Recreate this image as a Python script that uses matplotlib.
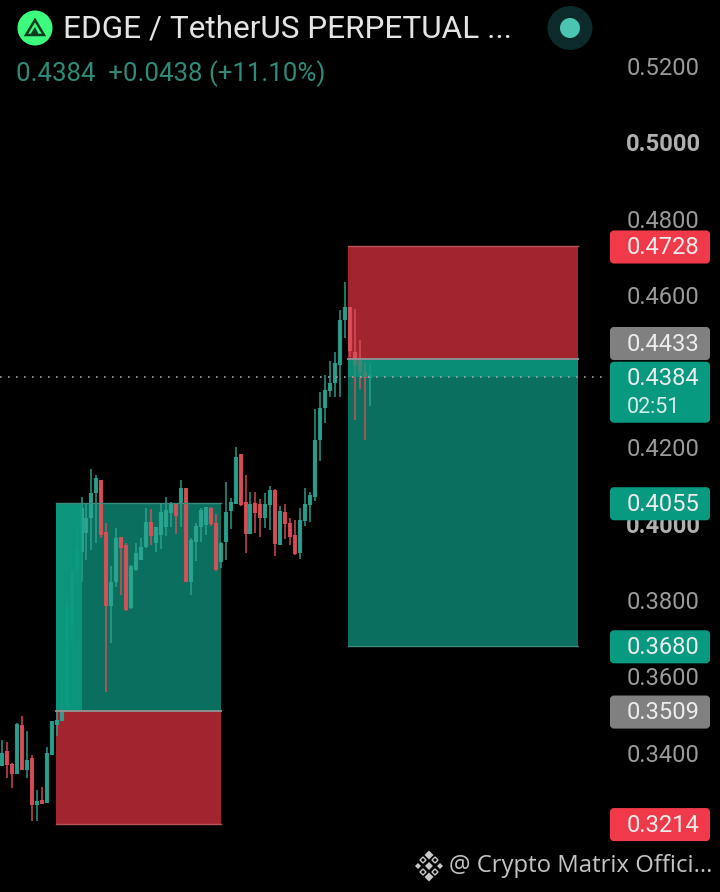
import matplotlib
matplotlib.use("Agg")
import matplotlib.pyplot as plt
import numpy as np
from matplotlib.patches import FancyBboxPatch, Circle, Ellipse, Polygon, Rectangle
from matplotlib.transforms import Affine2D

W, H = 720, 892
GREEN = "#2ba692"; RED = "#de4f59"

opens = [.3364,.3403,.3370,.3344,.3473,.3355,.3386,.3264,.3277,.3268,.3395,.3473,.3482,.3525,.3735,.3875,.3927,.3975,.4014,.4080,
         .4114,.3979,.3785,.3848,.3964,.3944,.3779,.3879,.3905,.3940,.4005,.3949,.3970,.3992,.4027,.4052,.4053,.4093,.3848,.3953,
         .3992,.3997,.4042,.4001,.3901,.3951,.4033,.4053,.4182,.4058,.3974,.4054,.4051,.4014,.4049,.4088,.3944,.4032,.4001,.3970,
         .3923,.4007,.4049,.4071,.4219,.4304,.4347,.4370,.4417,.4533,.4568,.4450,.4429,.4398,.4381]
highs = [.3434,.3428,.3373,.3478,.3495,.3457,.3395,.3303,.3309,.3414,.3484,.3512,.3595,.3822,.3883,.3997,.4071,.4053,.4143,.4128,
         .4114,.4001,.3888,.3988,.3966,.3949,.3892,.3949,.3962,.4040,.4039,.3992,.4053,.4071,.4058,.4053,.4114,.4094,.3962,.4001,
         .4040,.4045,.4045,.4025,.3953,.4110,.4067,.4202,.4184,.4129,.4084,.4082,.4064,.4080,.4100,.4090,.4047,.4051,.4014,.4010,
         .4040,.4093,.4082,.4302,.4346,.4389,.4427,.4449,.4560,.4634,.4568,.4564,.4481,.4424,.4420]
lows = [.3364,.3334,.3307,.3344,.3355,.3334,.3220,.3220,.3265,.3268,.3395,.3443,.3482,.3517,.3683,.3857,.3848,.3905,.3931,.3949,
        .3962,.3559,.3687,.3835,.3813,.3772,.3777,.3875,.3905,.3936,.3943,.3927,.3934,.3969,.3992,.3972,.3992,.3847,.3812,.3902,
        .3953,.3970,.3995,.3876,.3883,.3905,.3986,.4053,.4047,.3923,.3972,.3975,.3965,.3988,.3984,.3916,.3943,.3960,.3944,.3918,
        .3908,.3995,.4004,.4060,.4164,.4263,.4333,.4333,.4333,.4487,.4437,.4272,.4354,.4219,.4309]
closes = [.3399,.3368,.3344,.3475,.3355,.3382,.3264,.3272,.3265,.3399,.3482,.3486,.3512,.3787,.3875,.3936,.4040,.4014,.4080,.4119,
          .3970,.3785,.3848,.3962,.3936,.3774,.3888,.3923,.3940,.4005,.3969,.3992,.4032,.4036,.4053,.4021,.4093,.3847,.3958,.3995,
          .4036,.4045,.3998,.3879,.3949,.4032,.4058,.4174,.4049,.3972,.4052,.4027,.4016,.4051,.4088,.3946,.4033,.3998,.3966,.3920,
          .4010,.4051,.4075,.4219,.4304,.4350,.4370,.4420,.4533,.4568,.4452,.4416,.4398,.4381,.4389]

# long position: entry, target, stop, and first/last bar of the box
long_entry, long_target, long_stop = 0.3509, 0.4055, 0.3214
long_span = (10.9, 44.0)
long_progress_end = 16.1
# short position
short_entry, short_target, short_stop = 0.4433, 0.3680, 0.4728
short_span = (69.6, 115.8)
last_price = 0.4384

y_ticks = [0.52, 0.50, 0.48, 0.46, 0.42, 0.40, 0.38, 0.36, 0.34]
y_tick_labels = ["0.5200", "0.5000", "0.4800", "0.4600", "0.4200", "0.4000", "0.3800", "0.3600", "0.3400"]
bold_ticks = ["0.5000", "0.4000"]

# (price, label, colour, second line, pixel offset of the tag)
price_tags = [(0.4728, "0.4728", "#f03a4a", None, 1),
              (0.4433, "0.4433", "#808080", None, -15),
              (0.4384, "0.4384", "#089981", "02:51", 1),
              (0.4055, "0.4055", "#089981", None, 1),
              (0.3680, "0.3680", "#089981", None, 1),
              (0.3509, "0.3509", "#808080", None, 1),
              (0.3214, "0.3214", "#f03a4a", None, 1)]

title = "EDGE / TetherUS PERPETUAL ..."
quote = "0.4384  +0.0438 (+11.10%)"
watermark = "@ Crypto Matrix Offici..."

fig = plt.figure(figsize=(W / 100, H / 100), dpi=100, facecolor="black")
ax = fig.add_axes([0, 0, 1, 1], facecolor="black")
ax.set_xlim(-0.40, 144.47)
ax.set_ylim(0.30347, 0.53728)
for s in ax.spines.values():
    s.set_visible(False)
ax.xaxis.set_visible(False)

px = Affine2D().scale(1 / W, -1 / H).translate(0, 1) + fig.transFigure

# Position boxes
BRIGHT = "#0a9a80"; DARK = "#0a6f5e"; BOXRED = "#a1242f"; EDGE_C = "#8f8f8f"
ax.add_patch(Rectangle((long_span[0], long_entry), long_span[1] - long_span[0], long_target - long_entry, fc=DARK, ec="none", zorder=1))
ax.add_patch(Rectangle((long_span[0], long_stop), long_span[1] - long_span[0], long_entry - long_stop, fc=BOXRED, ec="none", zorder=1))
ax.add_patch(Rectangle((short_span[0], short_target), short_span[1] - short_span[0], short_entry - short_target, fc=DARK, ec="none", zorder=1))
ax.add_patch(Rectangle((short_span[0], short_entry), short_span[1] - short_span[0], short_stop - short_entry, fc=BOXRED, ec="none", zorder=1))

# Candles
for i, (o, h, l, c) in enumerate(zip(opens, highs, lows, closes)):
    col = GREEN if c >= o else RED
    ax.plot([i, i], [l, h], color=col, lw=1.4, alpha=0.72, solid_capstyle="butt", zorder=2)
    ax.plot([i, i], [min(o, c), max(o, c)], color=col, lw=3.0, alpha=0.9, solid_capstyle="butt", zorder=2.1)

# Brighter "progress" strips over the candles
ax.add_patch(Rectangle((long_span[0], long_entry), long_progress_end - long_span[0], long_target - long_entry, fc=BRIGHT, ec="none", alpha=0.9, zorder=2.2))
ax.add_patch(Rectangle((short_span[0], last_price), short_span[1] - short_span[0], short_entry - last_price, fc=BRIGHT, ec="none", alpha=0.72, zorder=2.2))

# Box borders and entry lines
for span, top, bot in [(long_span, long_target, long_stop), (short_span, short_stop, short_target)]:
    ax.plot([span[0], span[1]], [top, top], color="#3f8a7c" if top == long_target else "#b9545c", lw=1, zorder=2.3)
    ax.plot([span[0], span[1]], [bot, bot], color="#b9545c" if bot == long_stop else "#3f8a7c", lw=1, zorder=2.3)
ax.plot(long_span, [long_entry, long_entry], color=EDGE_C, lw=1.4, zorder=2.3)
ax.plot(short_span, [short_entry, short_entry], color=EDGE_C, lw=1.4, zorder=2.3)

# Last price line
ax.plot([-0.4, 121.5], [last_price, last_price], color="#9aa8a4", lw=1.2, ls=(0, (1, 3.8)), zorder=2.4)

# Axis labels
ax.yaxis.tick_right()
ax.set_yticks(y_ticks)
ax.set_yticklabels(y_tick_labels, fontfamily="Roboto", fontsize=17.1, color="#9a9a9a")
ax.tick_params(axis="y", length=0, pad=-67.5)
for lab in ax.get_yticklabels():
    if lab.get_text() in bold_ticks:
        lab.set_fontweight("bold")
        lab.set_color("#b0b0b0")

# Price tags
for price, text, colour, extra, off in price_tags:
    yc = H - ax.transData.transform((0, price))[1] + off
    hgt = 61 if extra else 33
    top = yc - 16.5
    fig.add_artist(FancyBboxPatch((611, top + 1), 98, hgt - 2, boxstyle="round,pad=0,rounding_size=3",
                                  fc=colour, ec=colour, lw=1.5, transform=px, zorder=5))
    fig.text(627 / W, 1 - (yc + 0.5) / H, text, color="#ececec", fontsize=17.1, family="Roboto",
             ha="left", va="center", zorder=6)
    if extra:
        fig.text(627 / W, 1 - (yc + 29) / H, extra, color="#d5ece7", fontsize=15.5, family="Roboto",
                 ha="left", va="center", zorder=6)

# Header
fig.add_artist(Circle((35, 28), 17.5, fc="#3dfb7c", ec="none", transform=px))
fig.add_artist(Polygon([(35, 20), (44, 35), (26, 35)], closed=True, fc="none", ec="#0c3b22", lw=1.8, transform=px))
fig.add_artist(Polygon([(35, 27), (39, 35), (30, 35)], closed=True, fc="#0c3b22", ec="none", transform=px))
fig.text(63 / W, 1 - 29 / H, title, color="#e4e4e4", fontsize=22.7, family="Roboto", ha="left", va="center")
fig.text(16 / W, 1 - 73.5 / H, quote, color="#2f8b79", fontsize=18.6, family="Roboto", ha="left", va="center")
fig.add_artist(Ellipse((570, 28), 45, 44, fc="#0b2a29", ec="none", transform=px))
fig.add_artist(Ellipse((570, 28), 20, 20, fc="#4cc4b2", ec="none", transform=px))

# Watermark with diamond logo
LOGO = "#c9c9c9"
for cx, cy, r in [(429, 855, 4.5), (429, 877, 4.5), (418, 866, 3), (440, 866, 3), (429, 866, 4)]:
    fig.add_artist(Polygon([(cx, cy - r), (cx + r, cy), (cx, cy + r), (cx - r, cy)], closed=True, fc=LOGO, ec="none", transform=px))
for cx, cy in [(423, 860), (435, 860), (423, 872), (435, 872)]:
    fig.add_artist(Polygon([(cx, cy - 3), (cx + 3, cy), (cx, cy + 3), (cx - 3, cy)], closed=True, fc="none", ec=LOGO, lw=1, transform=px))
fig.text(449 / W, 1 - 866 / H, watermark, color="#c4c4c4", fontsize=17.2, family="Open Sans", ha="left", va="center")

fig.savefig("out.png", dpi=100, facecolor="black")
